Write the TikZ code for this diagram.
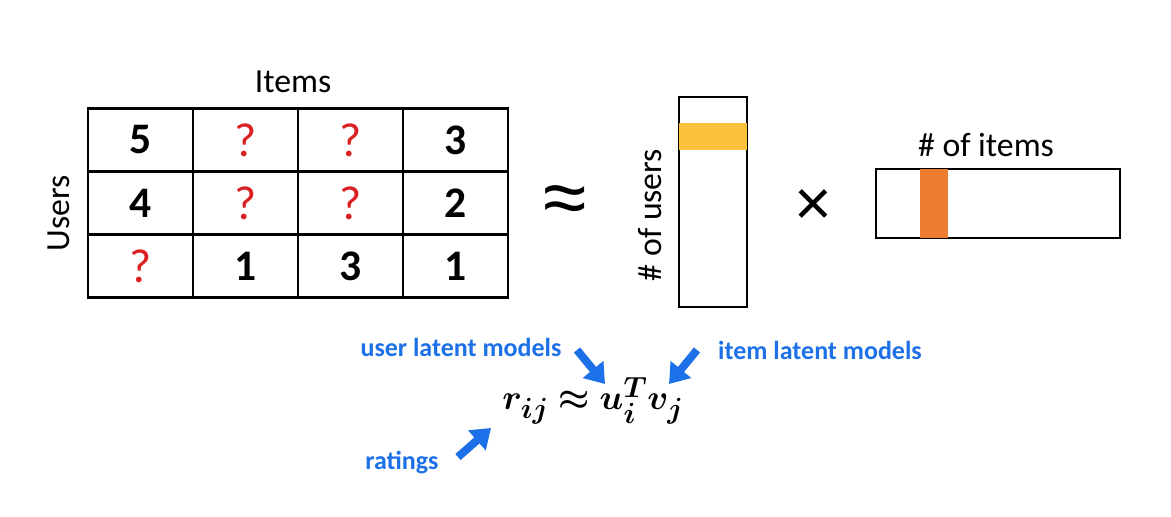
\documentclass[tikz,border=0pt]{standalone}
\usepackage{fontspec}
\usepackage{amsmath}
\usepackage{bm}
\setmainfont{Carlito}
\newfontfamily\opfont{Liberation Sans}
\usetikzlibrary{positioning,arrows.meta}

\definecolor{lblue}{RGB}{28,112,232}
\definecolor{uyellow}{RGB}{250,193,58}
\definecolor{vorange}{RGB}{237,125,49}
\definecolor{qred}{RGB}{218,32,32}

\begin{document}
\begin{tikzpicture}[x=0.025cm, y=-0.025cm, node distance=0pt]
            % Define styles
            \tikzstyle{cell} = [rectangle, draw, line width=1.5pt, outer sep=0pt, minimum width=2.625cm, minimum height=1.575cm, font=\fontsize{31}{34}\selectfont\bfseries]
            \tikzstyle{unknown} = [cell, font=\fontsize{34}{38}\selectfont, text=qred]
            \tikzstyle{caption} = [font=\fontsize{24}{28}\selectfont, inner sep=0pt]
            \tikzstyle{operator} = [font=\opfont\fontsize{56}{60}\selectfont, inner sep=0pt]
            \tikzstyle{factor} = [rectangle, draw, line width=1.2pt, outer sep=0pt]
            \tikzstyle{band} = [rectangle, outer sep=0pt, inner sep=0pt]
            \tikzstyle{label} = [font=\fontsize{18.5}{22}\selectfont\bfseries, text=lblue, inner sep=0pt]
            \tikzstyle{arrow} = [lblue, line width=0.2cm, -{Triangle[width=0.64cm, length=0.47cm]}]

            \useasboundingbox (0,0) rectangle (1171,517);

            % RATING MATRIX (Left side)
            \node (r1c1) [cell] at (140.5,140) {5};
            \node (r1c2) [unknown, right=of r1c1] {?};
            \node (r1c3) [unknown, right=of r1c2] {?};
            \node (r1c4) [cell, right=of r1c3] {3};

            \node (r2c1) [cell, below=of r1c1] {4};
            \node (r2c2) [unknown, right=of r2c1] {?};
            \node (r2c3) [unknown, right=of r2c2] {?};
            \node (r2c4) [cell, right=of r2c3] {2};

            \node (r3c1) [unknown, below=of r2c1] {?};
            \node (r3c2) [cell, right=of r3c1] {1};
            \node (r3c3) [cell, right=of r3c2] {3};
            \node (r3c4) [cell, right=of r3c3] {1};

            \node (items) [caption] at (293,82) {Items};
            \node (users) [caption, rotate=90] at (59,213) {Users};

            \node (approx) [operator] at (565,205) {≈};

            % User factor
            \node (umat) [factor, minimum width=1.7cm, minimum height=5.25cm] at (713,202) {};
            \node (uband) [band, fill=uyellow, minimum width=1.7cm, minimum height=0.675cm, below=0.65cm of umat.north] {};
            \node (nusers) [caption, rotate=90] at (650,215) {\# of users};

            \node (times) [operator, font=\opfont\fontsize{46}{50}\selectfont] at (813,208) {×};

            % Item factor
            \node (vmat) [factor, minimum width=6.1cm, minimum height=1.725cm] at (998,203.5) {};
            \node (vband) [band, fill=vorange, minimum width=0.7cm, minimum height=1.725cm, right=1.1cm of vmat.west] {};
            \node (nitems) [caption] at (986,145) {\# of items};

            % Formula and labels
            \node (formula) [anchor=base, inner sep=0pt, font=\fontsize{30}{34}\selectfont] at (593,410) {$\bm{r_{ij} \approx u_i^T v_j}$};
            \node (userlbl) [label] at (461,347) {user latent models};
            \node (itemlbl) [label] at (820,350) {item latent models};
            \node (ratinglbl) [label] at (402,463) {ratings};

            \coordinate (utail) at (577,350);
            \coordinate (uhead) at (605,384);
            \coordinate (vtail) at (697,350);
            \coordinate (vhead) at (669,384);
            \coordinate (rtail) at (458,457);
            \coordinate (rhead) at (491,428);

            \draw [arrow] (utail) -- (uhead);
            \draw [arrow] (vtail) -- (vhead);
            \draw [arrow] (rtail) -- (rhead);

\end{tikzpicture}
\end{document}
